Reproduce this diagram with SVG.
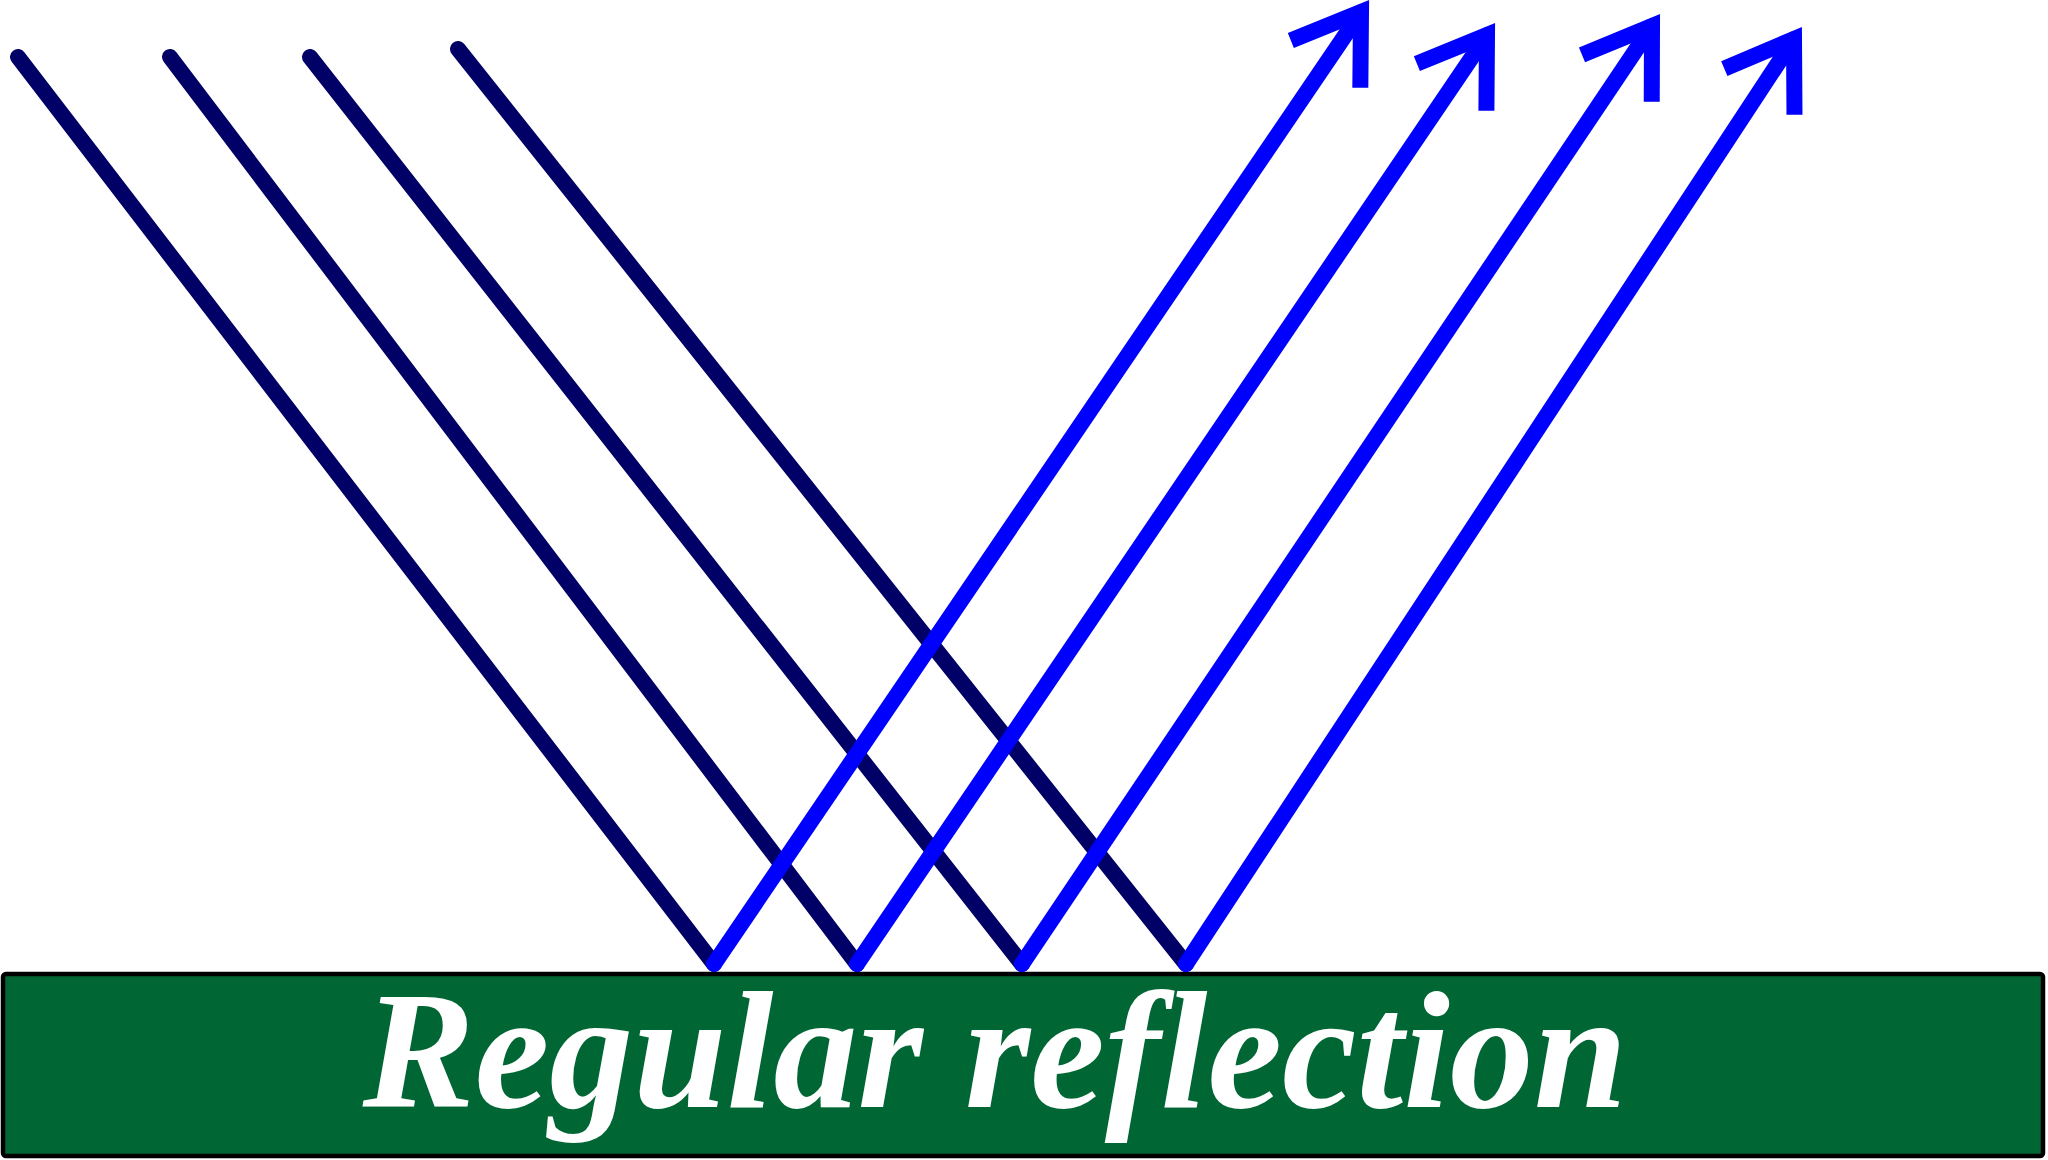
<svg xmlns="http://www.w3.org/2000/svg" width="2048" height="1160" viewBox="0 0 2048 1160">
  <style>
    .inc { fill: none; stroke: #000066; stroke-width: 16; stroke-linecap: round; }
    .ref { fill: none; stroke: #0000ff; stroke-width: 16; stroke-linecap: round; marker-end: url(#ah); }
    .ground { fill: #006633; stroke: #000000; stroke-width: 4.5; }
    .label { fill: #ffffff; font-family: "Liberation Serif", "Times New Roman", serif; font-weight: bold; font-style: italic; font-size: 168px; }
  </style>
  <defs>
    <marker id="ah" markerUnits="userSpaceOnUse" orient="auto" refX="0" refY="0" markerWidth="200" markerHeight="200" viewBox="-100 -100 200 200" overflow="visible">
      <path d="M-63,-42 L0,0 L-63,42" fill="none" stroke="#0000ff" stroke-width="16" stroke-linejoin="miter" stroke-miterlimit="10"/>
    </marker>
  </defs>
  <rect width="2048" height="1160" fill="#ffffff"/>
  <g id="ground">
    <rect class="ground" x="3" y="974" width="2040" height="182" rx="3" ry="3"/>
    <text class="label" x="995" y="1107" text-anchor="middle">Regular reflection</text>
  </g>
  <g id="connectors">
    <g id="incident-rays">
      <path class="inc" d="M18,57 L714,964"/>
      <path class="inc" d="M170,57 L857,964"/>
      <path class="inc" d="M310,57 L1022,964"/>
      <path class="inc" d="M458,49 L1186,964"/>
    </g>
    <g id="reflected-rays">
      <path class="ref" d="M714,964 L1361,12"/>
      <path class="ref" d="M857,964 L1487,35"/>
      <path class="ref" d="M1022,964 L1652,26"/>
      <path class="ref" d="M1186,964 L1794,39"/>
    </g>
  </g>
</svg>
